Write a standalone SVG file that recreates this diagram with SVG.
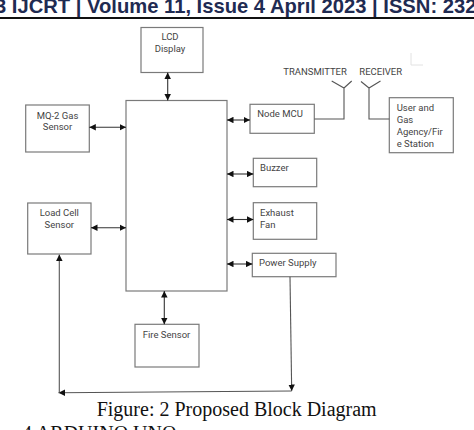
<svg xmlns="http://www.w3.org/2000/svg" width="474" height="430" viewBox="0 0 474 430">
<style>
.box{fill:#fff;stroke:#7a7a7a;stroke-width:1.2}
.t{font-family:Roboto,"Liberation Sans",sans-serif;font-size:9.5px;fill:#444}
.c{text-anchor:middle}
.ln{fill:none;stroke:#555;stroke-width:1.1}
.ar{fill:none;stroke:#333;stroke-width:1.1;marker-start:url(#ah);marker-end:url(#ah)}
.a1{fill:none;stroke:#555;stroke-width:1.1;marker-end:url(#ah)}
</style>
<defs>
<marker id="ah" viewBox="0 0 10 10" refX="10" refY="5" markerWidth="6.5" markerHeight="6.5" markerUnits="userSpaceOnUse" orient="auto-start-reverse">
<path d="M0,0 L10,5 L0,10 Z" fill="#111"/>
</marker>
</defs>
<rect width="474" height="430" fill="#fff"/>
<g id="header">
<text x="-5" y="12.7" font-family="'Liberation Sans',Arial,sans-serif" font-weight="bold" font-size="20.2" fill="#1f2b52">3 IJCRT | Volume 11, Issue 4 April 2023 | ISSN: 232</text>
<line x1="0" y1="18" x2="474" y2="18" stroke="#111" stroke-width="2"/>
</g>
<g id="lcd"><rect class="box" x="141" y="27.5" width="62" height="45"/>
<text class="t c" x="170" y="39.5">LCD</text><text class="t c" x="170" y="52">Display</text></g>
<g id="mcu"><rect class="box" x="126" y="100.5" width="101" height="190.5"/></g>
<g id="mq2"><rect class="box" x="25.7" y="105" width="63.6" height="47"/>
<text class="t c" x="57.5" y="118.5">MQ-2 Gas</text><text class="t c" x="57.5" y="130">Sensor</text></g>
<g id="loadcell"><rect class="box" x="27.7" y="203" width="63.3" height="51"/>
<text class="t c" x="59.3" y="216">Load Cell</text><text class="t c" x="59.3" y="228">Sensor</text></g>
<g id="nodemcu"><rect class="box" x="250" y="104.3" width="64.3" height="29"/>
<text class="t" x="257.3" y="117">Node MCU</text></g>
<g id="buzzer"><rect class="box" x="253.3" y="158.3" width="63.4" height="28.4"/>
<text class="t" x="260" y="171">Buzzer</text></g>
<g id="exhaust"><rect class="box" x="253.3" y="202.7" width="63.4" height="36.6"/>
<text class="t" x="260" y="215.5">Exhaust</text><text class="t" x="260" y="228">Fan</text></g>
<g id="power"><rect class="box" x="252.3" y="253.3" width="83.7" height="23.4"/>
<text class="t" x="259" y="266">Power Supply</text></g>
<g id="fire"><rect class="box" x="135" y="324.3" width="64" height="42.7"/>
<text class="t c" x="166.5" y="337.5">Fire Sensor</text></g>
<g id="user"><rect class="box" x="389.3" y="97.7" width="64" height="55"/>
<text class="t" x="396.7" y="111">User and</text><text class="t" x="396.7" y="123">Gas</text><text class="t" x="396.7" y="135">Agency/Fir</text><text class="t" x="396.7" y="147">e Station</text></g>
<g id="transmitter">
<text class="t" x="283.3" y="74.5">TRANSMITTER</text>
<path class="ln" d="M331.7,81 L344,88 L351.7,81 M344,88 V119 H314.3"/>
</g>
<g id="receiver">
<text class="t" x="359.3" y="74.5">RECEIVER</text>
<path class="ln" d="M361,81.5 L369,88 L380.5,81 M369,88 V119 H389.3"/>
</g>
<g id="connectors">
<line class="ar" x1="167.7" y1="72.5" x2="167.7" y2="100.5"/>
<line class="ar" x1="89.3" y1="127.3" x2="126" y2="127.3"/>
<line class="ar" x1="91" y1="227.7" x2="126" y2="227.7"/>
<line class="ar" x1="227" y1="120" x2="250" y2="120"/>
<line class="ar" x1="227" y1="174" x2="253.3" y2="174"/>
<line class="ar" x1="227" y1="219.5" x2="253.3" y2="219.5"/>
<line class="ar" x1="227" y1="264" x2="252.3" y2="264"/>
<line class="ar" x1="164.3" y1="291" x2="164.3" y2="324.3"/>
<path class="a1" d="M290,276.7 L291.7,391"/>
<path class="a1" d="M291.7,391 L58.5,392.7"/>
<path class="a1" d="M59.3,392.7 L59.3,254.5"/>
</g>
<path d="M411,53 V65 H423" fill="none" stroke="#e2e2e2" stroke-width="1"/>
<g id="caption">
<text x="96.7" y="416" font-family="'Liberation Serif','Times New Roman',serif" font-size="20" fill="#111">Figure: 2 Proposed Block Diagram</text>
<text x="22" y="440" font-family="'Liberation Serif','Times New Roman',serif" font-size="20" fill="#111">4 ARDUINO UNO</text>
</g>
</svg>
